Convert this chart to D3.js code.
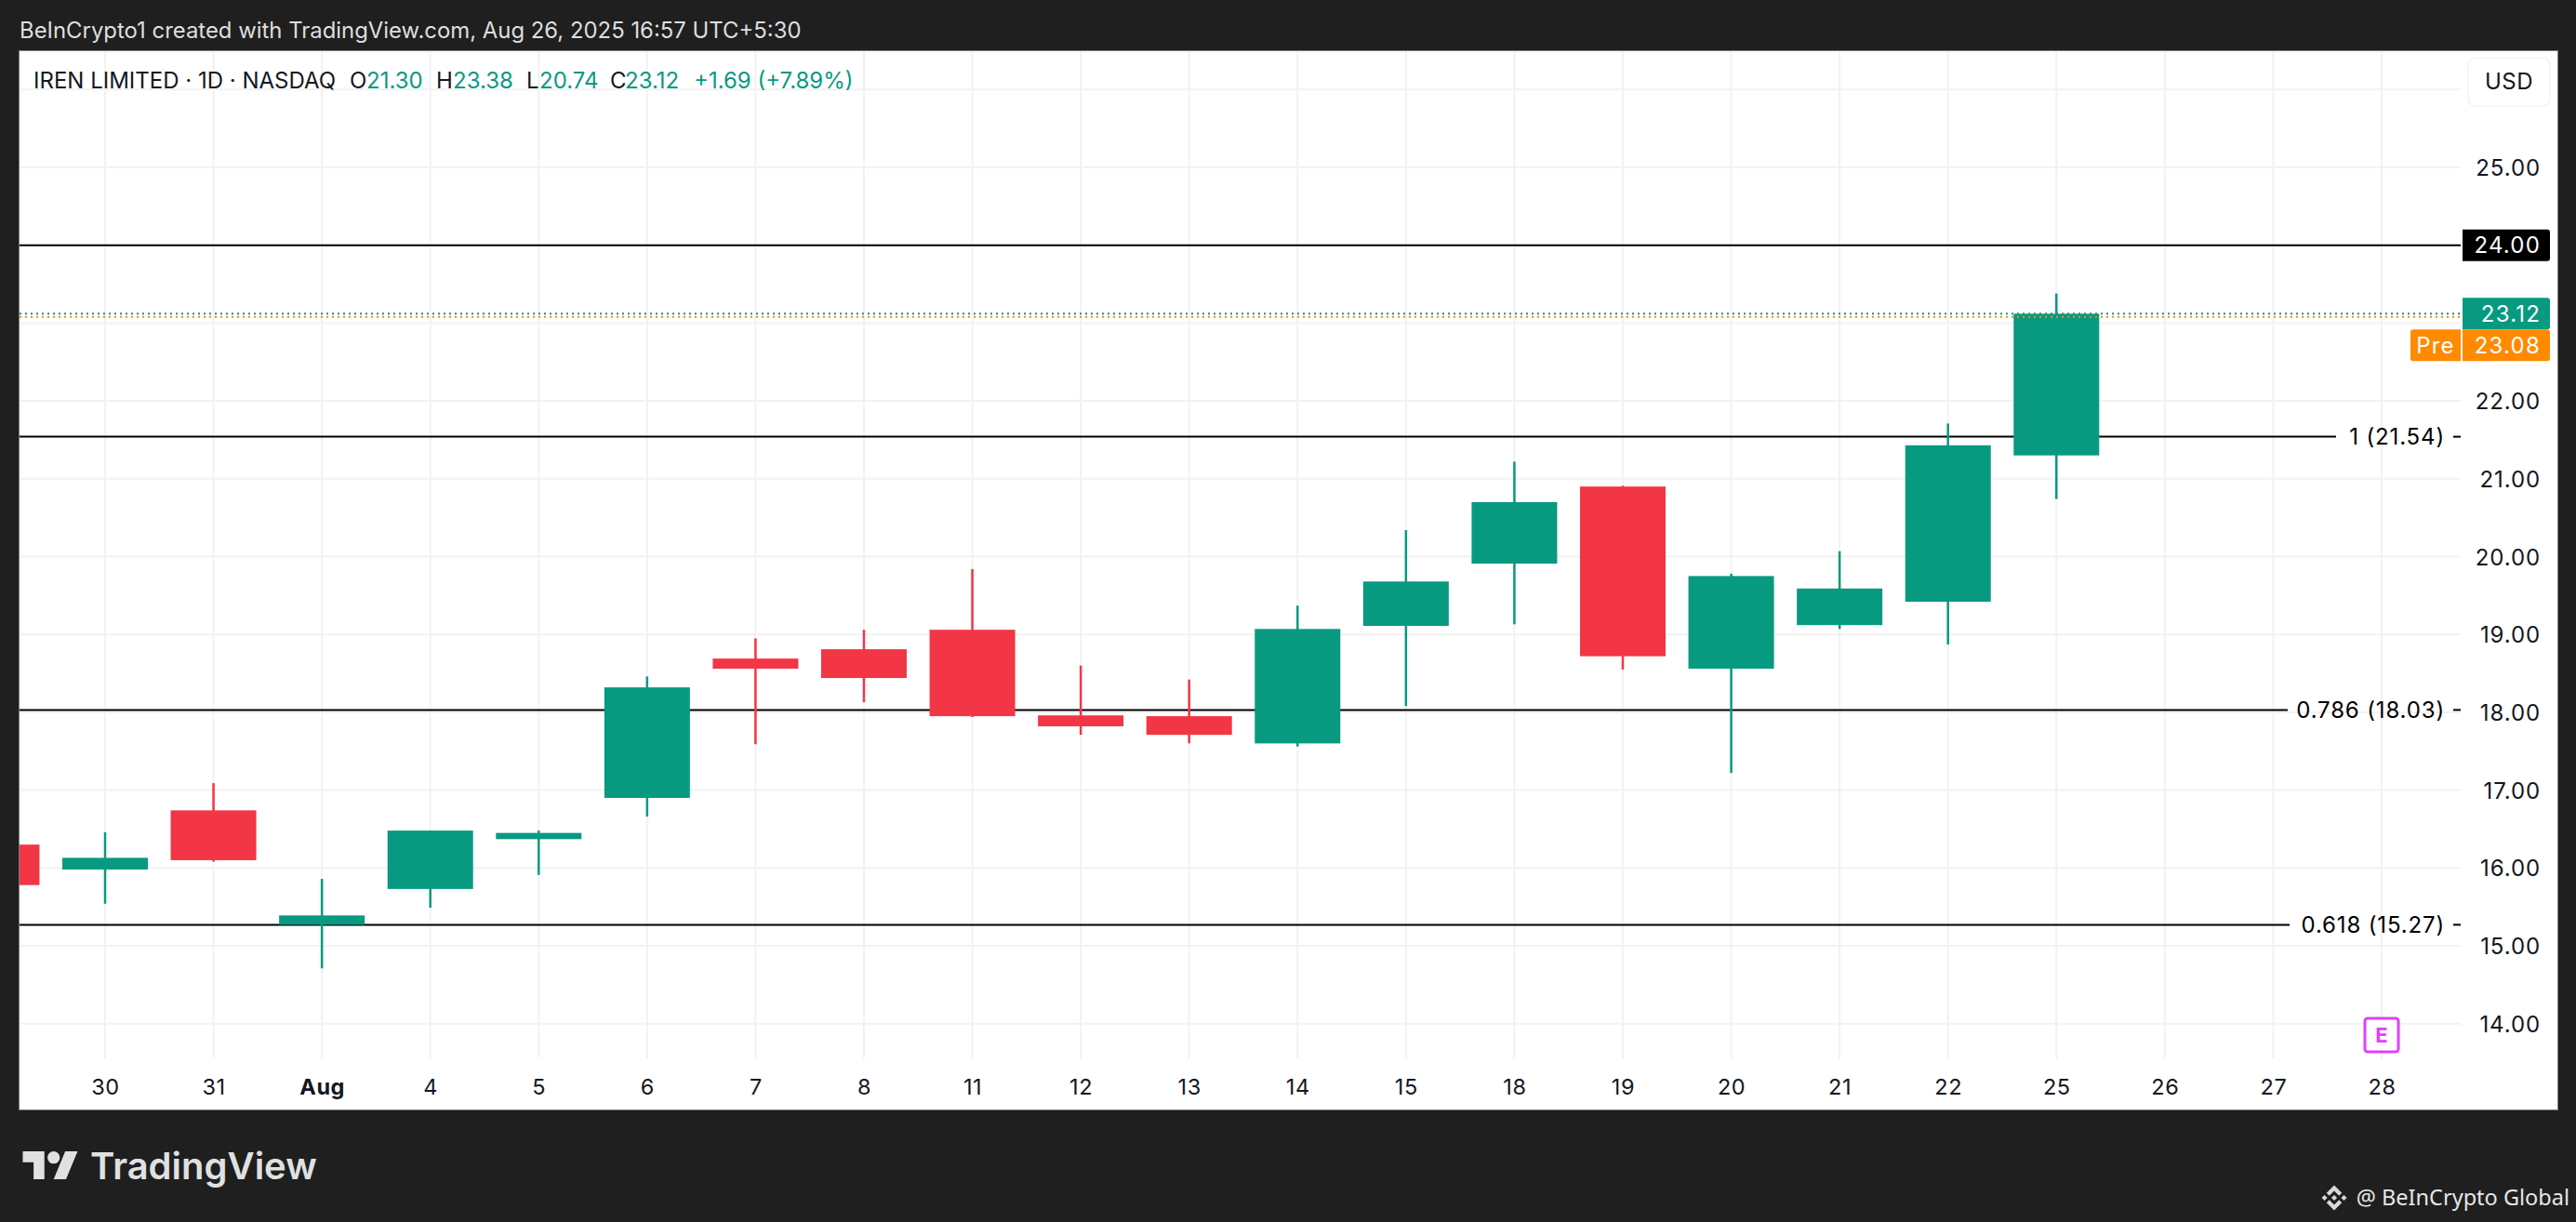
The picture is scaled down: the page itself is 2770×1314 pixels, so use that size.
<!DOCTYPE html>
<html>
<head>
<meta charset="UTF-8">
<script src="https://d3js.org/d3.v7.min.js"></script>
<style>
  html,body{margin:0;padding:0;background:#1f1f1f;}
  svg{display:block;}
  text{font-family:Inter,sans-serif;}
</style>
</head>
<body>
<svg id="chart" width="2770" height="1314"></svg>
<script>
// daily candles, first one is the cut off bar at the left edge
const dayIndex=[-1,0,1,2,3,4,5,6,7,8,9,10,11,12,13,14,15,16,17,18];
const opens =[16.30,15.98,16.74,15.27,15.73,16.37,16.90,18.69,18.81,19.06,17.96,17.95,17.60,19.11,19.91,20.90,18.56,19.12,19.42,21.30];
const highs =[16.30,16.46,17.09,15.86,16.48,16.48,18.46,18.95,19.06,19.84,18.60,18.42,19.37,20.34,21.22,20.91,19.78,20.07,21.71,23.38];
const lows  =[15.78,15.54,16.08,14.71,15.49,15.91,16.66,17.59,18.13,17.94,17.71,17.60,17.56,18.08,19.13,18.55,17.22,19.07,18.87,20.74];
const closes=[15.78,16.13,16.10,15.39,16.48,16.45,18.32,18.56,18.44,17.95,17.82,17.71,19.07,19.68,20.70,18.72,19.75,19.59,21.43,23.12];

const timeLabels=['30','31','Aug','4','5','6','7','8','11','12','13','14','15','18','19','20','21','22','25','26','27','28'];
const gridPrices=[14,15,16,17,18,19,20,21,22,23,24,25,26];
const priceLabels=[14,15,16,17,18,19,20,21,22,25];

const fibValues=[21.54,18.03,15.27];
const fibNames=['1 (21.54)','0.786 (18.03)','0.618 (15.27)'];
const levelPrice=24;
const lastPrice=23.12;
const prePrice=23.08;

const headerText=['IREN LIMITED · 1D · NASDAQ','O','21.30','H','23.38','L','20.74','C','23.12','+1.69 (+7.89%)'];
const creditText='BeInCrypto1 created with TradingView.com, Aug 26, 2025 16:57 UTC+5:30';

const green='#089981',red='#f23645',orange='#ff8a00',ink='#131722',grid='#f2f2f2',dark='#1f1f1f';
const panelLeft=21,panelRight=2750,panelTop=55,panelBottom=1193,plotRight=2646,plotBottom=1138;

const x=d3.scaleLinear().domain([0,21]).range([113,2561]);
const y=d3.scaleLinear().domain([14,25]).range([1100.7,180]);

const svg=d3.select('#chart');

svg.append('rect').attr('width',2770).attr('height',1314).attr('fill',dark);
svg.append('rect')
  .attr('x',panelLeft-0.5).attr('y',panelTop-0.5)
  .attr('width',panelRight-panelLeft+1).attr('height',panelBottom-panelTop+1)
  .attr('fill','#fff').attr('stroke','#7a7a7a').attr('stroke-width',1);

svg.append('text')
  .attr('x',21).attr('y',41)
  .attr('font-size',23.9).attr('fill','#dedede')
  .text(creditText);

const defs=svg.append('defs');
defs.append('clipPath').attr('id','plotClip')
  .append('rect').attr('x',panelLeft).attr('y',panelTop).attr('width',plotRight-panelLeft).attr('height',plotBottom-panelTop);

// grid
const gridG=svg.append('g').attr('stroke',grid).attr('stroke-width',2);
gridG.selectAll('line.v')
  .data(d3.range(timeLabels.length))
  .join('line')
  .attr('class','v')
  .attr('x1',d => x(d)).attr('x2',d => x(d))
  .attr('y1',panelTop).attr('y2',plotBottom);
gridG.selectAll('line.h')
  .data(gridPrices)
  .join('line')
  .attr('class','h')
  .attr('x1',panelLeft).attr('x2',plotRight)
  .attr('y1',d => y(d)).attr('y2',d => y(d));

// horizontal levels
const plot=svg.append('g').attr('clip-path','url(#plotClip)');
plot.append('line')
  .attr('x1',panelLeft).attr('x2',plotRight)
  .attr('y1',y(levelPrice)).attr('y2',y(levelPrice))
  .attr('stroke','#000').attr('stroke-width',2);

const fibEnds=[2512,2460,2462];
const fibG=plot.append('g').selectAll('g').data(fibValues).join('g');
fibG.append('line')
  .attr('x1',panelLeft).attr('x2',(d,i) => fibEnds[i])
  .attr('y1',d => y(d)).attr('y2',d => y(d))
  .attr('stroke','#000').attr('stroke-width',2);
fibG.append('line')
  .attr('x1',2638).attr('x2',plotRight)
  .attr('y1',d => y(d)).attr('y2',d => y(d))
  .attr('stroke','#000').attr('stroke-width',2);
fibG.append('text')
  .attr('x',2629).attr('y',d => y(d))
  .attr('dy','0.36em').attr('text-anchor','end')
  .attr('font-size',24).attr('letter-spacing',0.85).attr('fill','#000')
  .text((d,i) => fibNames[i]);

// candles
const candles=dayIndex.map((d,i) => ({i:d,o:opens[i],h:highs[i],l:lows[i],c:closes[i]}));
const candleG=plot.append('g').selectAll('g').data(candles).join('g')
  .attr('fill',d => d.c>=d.o ? green : red);
candleG.append('rect')
  .attr('x',d => x(d.i)-1.25).attr('width',2.5)
  .attr('y',d => y(d.h)).attr('height',d => y(d.l)-y(d.h));
candleG.append('rect')
  .attr('x',d => x(d.i)-46).attr('width',92)
  .attr('y',d => y(Math.max(d.o,d.c))).attr('height',d => y(Math.min(d.o,d.c))-y(Math.max(d.o,d.c)));

// dotted last price lines
plot.append('line')
  .attr('x1',panelLeft).attr('x2',plotRight)
  .attr('y1',y(prePrice)).attr('y2',y(prePrice))
  .attr('stroke',orange).attr('stroke-width',2).attr('stroke-dasharray','2 4');
plot.append('line')
  .attr('x1',panelLeft).attr('x2',plotRight)
  .attr('y1',y(lastPrice)).attr('y2',y(lastPrice))
  .attr('stroke',green).attr('stroke-width',2).attr('stroke-dasharray','2 4');

// axes
const timeAxis=svg.append('g')
  .attr('transform','translate(0,1160)')
  .call(d3.axisBottom(x).tickValues(d3.range(timeLabels.length)).tickSize(0).tickPadding(0).tickFormat(d => timeLabels[d]));
timeAxis.select('.domain').remove();
timeAxis.selectAll('text')
  .attr('y',0).attr('dy','0.73em')
  .attr('font-family','Inter,sans-serif')
  .attr('font-size',23.5).attr('letter-spacing',0.6).attr('fill',ink)
  .attr('font-weight',d => timeLabels[d]==='Aug' ? 700 : 400);

const priceAxis=svg.append('g')
  .attr('transform','translate(2732,0)')
  .call(d3.axisRight(y).tickValues(priceLabels).tickSize(0).tickPadding(0).tickFormat(d3.format('.2f')));
priceAxis.select('.domain').remove();
priceAxis.selectAll('text')
  .attr('x',0).attr('dy','0.36em').attr('text-anchor','end')
  .attr('font-family','Inter,sans-serif')
  .attr('font-size',24).attr('letter-spacing',0.9).attr('fill',ink);

// price tags on the axis
function tag(x0,x1,cy,fill,roundLeft){
  const r=3,t=cy-17,b=cy+17;
  const d=roundLeft
    ? `M${x1},${t}H${x0+r}Q${x0},${t} ${x0},${t+r}V${b-r}Q${x0},${b} ${x0+r},${b}H${x1}Z`
    : `M${x0},${t}H${x1-r}Q${x1},${t} ${x1},${t+r}V${b-r}Q${x1},${b} ${x1-r},${b}H${x0}Z`;
  svg.append('path').attr('d',d).attr('fill',fill);
}
function tagText(px,cy,str,anchor){
  svg.append('text').attr('x',px).attr('y',cy).attr('dy','0.36em')
    .attr('text-anchor',anchor).attr('font-size',24).attr('letter-spacing',1.2).attr('fill','#fff').text(str);
}
const fmt=d3.format('.2f');
const yLevel=y(levelPrice),yLast=y(lastPrice),yPre=yLast+34;
tag(2648,2742,yLevel,'#000');
tagText(2732,yLevel,fmt(levelPrice),'end');
tag(2648,2742,yLast,green);
tagText(2732,yLast,fmt(lastPrice),'end');
tag(2648,2742,yPre,orange);
tagText(2732,yPre,fmt(prePrice),'end');
tag(2592,2646,yPre,orange,true);
tagText(2619,yPre,'Pre','middle');

// USD button
svg.append('rect')
  .attr('x',2654).attr('y',62).attr('width',88).attr('height',52).attr('rx',8)
  .attr('fill','#fff').attr('stroke','#f0f3fa').attr('stroke-width',1.5);
svg.append('text').attr('x',2698).attr('y',87).attr('dy','0.36em')
  .attr('text-anchor','middle').attr('font-size',24).attr('letter-spacing',0.5).attr('fill',ink).text('USD');

// legend line
const headerX=[36,376,394,469,487,566,580,656,672,746];
const head=svg.append('text').attr('y',86).attr('dy','0.36em').attr('font-size',24);
headerText.forEach((t,i) => {
  head.append('tspan')
    .attr('x',headerX[i])
    .attr('fill',i===0 || (i%2===1 && i<9) ? ink : green)
    .text(t);
});

// earnings marker
svg.append('rect')
  .attr('x',x(21)-18).attr('y',1095).attr('width',36).attr('height',36).attr('rx',3)
  .attr('fill','#fff').attr('stroke','#e040fb').attr('stroke-width',3);
svg.append('text').attr('x',x(21)).attr('y',1113).attr('dy','0.36em')
  .attr('text-anchor','middle').attr('font-size',22).attr('font-weight',700).attr('fill','#e040fb').text('E');

// footer
const logo=svg.append('g').attr('fill','#e0e1e1').attr('transform','translate(24.5,1231.4) scale(1.66)');
logo.append('path').attr('d','M14 22H7V11H0V4h14v18zM28 22h-8l7.5-18h8L28 22z');
logo.append('circle').attr('cx',20).attr('cy',8).attr('r',4);
svg.append('text').attr('x',97).attr('y',1268)
  .attr('font-size',40).attr('font-weight',600).attr('fill','#e0e1e1').text('TradingView');

svg.append('path')
  .attr('transform','translate(2496.5,1274.5) scale(1.125)')
  .attr('fill','#d8d8d8')
  .attr('d','M16.624 13.9202l2.7175 2.7154-7.353 7.353-7.353-7.352 2.7175-2.7164 4.6355 4.6595 4.6356-4.6595zm4.6366-4.6366L24 12l-2.7154 2.7164L18.5682 12l2.6924-2.7164zm-9.272.001l2.7163 2.6914-2.7164 2.7174v-.001L9.2721 12l2.7164-2.7154zm-9.2722-.001L5.4088 12l-2.6914 2.6924L0 12l2.7164-2.7164zM11.9885.0115l7.353 7.329-2.7174 2.7154-4.6356-4.6356-4.6355 4.6595-2.7174-2.7154 7.353-7.353z');
svg.append('text').attr('x',2763).attr('y',1296)
  .attr('text-anchor','end')
  .style('font-family','"Noto Sans",sans-serif')
  .attr('font-size',23.5).attr('fill','#e6e6e6').text('@ BeInCrypto Global');
</script>
</body>
</html>
